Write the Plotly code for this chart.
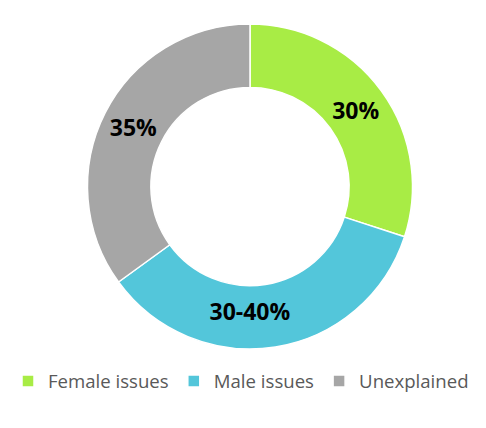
import plotly.graph_objects as go

# Causes of infertility
categories = ['Female issues', 'Male issues', 'Unexplained']
shares = [30, 35, 35]
slice_labels = ['30%', '30-40%', '35%']
colors = ['#A8EC45', '#53C6DA', '#A6A6A6']

# the page puts the figure 8px in from the top left corner, so pull it back
off = 8

fig = go.Figure()

fig.add_trace(go.Pie(
    labels=categories,
    values=shares,
    text=slice_labels,
    textinfo='text',
    textposition='inside',
    insidetextorientation='horizontal',
    textfont=dict(family='Open Sans', size=23, color='black', weight='bold'),
    marker=dict(colors=colors, line=dict(color='white', width=1.5)),
    hole=0.61,
    sort=False,
    direction='clockwise',
    rotation=0,
    hoverinfo='label+text',
    domain=dict(x=[(87.5 - off) / 486, (412.5 - off) / 486],
                y=[1 - (349 - off) / 428, 1 - (24 - off) / 428]),
))

fig.update_layout(
    width=486,
    height=428,
    margin=dict(l=0, r=0, t=0, b=0),
    paper_bgcolor='white',
    plot_bgcolor='white',
    showlegend=True,
    uniformtext=dict(minsize=23, mode='show'),
    legend=dict(
        orientation='h',
        x=0,
        xanchor='left',
        y=1 - (381.5 - off) / 428,
        yanchor='middle',
        font=dict(family='Open Sans', size=18.6, color='#595959'),
        traceorder='normal',
    ),
)

fig.write_html("out.html")
